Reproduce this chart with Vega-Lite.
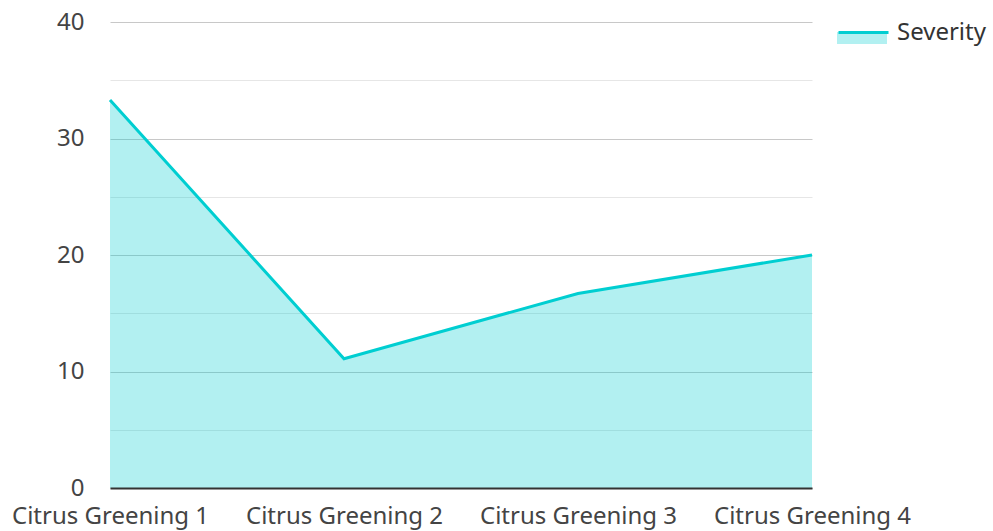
{
  "$schema": "https://vega.github.io/schema/vega-lite/v6.json",
  "width": 702,
  "height": 466,
  "autosize": {"type": "none"},
  "padding": {"left": 110, "top": 22, "right": 181, "bottom": 43},
  "background": "white",
  "config": {
    "view": {"stroke": null},
    "font": "Noto Sans",
    "axis": {"labelFont": "Noto Sans", "labelFontSize": 24, "labelColor": "#444444", "title": null, "labelLimit": 0},
    "legend": {"labelFont": "Noto Sans", "labelFontSize": 24, "labelColor": "#333333", "padding": 0, "labelLimit": 0}
  },
  "data": {
    "values": [
      {"category": "Citrus Greening 1", "severity": 33.3, "series": "Severity", "line": "Severity"},
      {"category": "Citrus Greening 2", "severity": 11.1, "series": "Severity", "line": "Severity"},
      {"category": "Citrus Greening 3", "severity": 16.7, "series": "Severity", "line": "Severity"},
      {"category": "Citrus Greening 4", "severity": 20.0, "series": "Severity", "line": "Severity"}
    ]
  },
  "encoding": {
    "x": {
      "field": "category",
      "type": "ordinal",
      "scale": {"type": "point", "padding": 0},
      "axis": {"labelAngle": 0, "ticks": false, "domainColor": "#333333", "domainWidth": 2, "labelPadding": 16, "grid": false, "zindex": 1, "labelOverlap": false}
    },
    "y": {
      "field": "severity",
      "type": "quantitative",
      "scale": {"domain": [0, 40], "nice": false},
      "axis": {
        "values": [0, 5, 10, 15, 20, 25, 30, 35, 40],
        "labelExpr": "datum.value % 10 === 0 ? datum.label : ''",
        "ticks": false,
        "domain": false,
        "labelPadding": 26,
        "grid": true,
        "gridColor": {"condition": {"test": "datum.value % 10 === 0", "value": "#c8c8c8"}, "value": "#e6e6e6"},
        "gridWidth": 1
      }
    }
  },
  "layer": [
    {
      "mark": {"type": "area", "fillOpacity": 0.3},
      "encoding": {
        "fill": {
          "field": "series",
          "type": "nominal",
          "scale": {"range": ["#00CED1"]},
          "legend": {
            "title": null,
            "orient": "none",
            "legendX": 727,
            "legendY": -15,
            "symbolType": "M-1,0H1V0.48H-1Z",
            "symbolSize": 2500,
            "symbolOpacity": 0.3,
            "symbolStrokeWidth": 0,
            "labelOffset": 7,
            "labelExpr": "''"
          }
        }
      }
    },
    {
      "mark": {"type": "line", "strokeWidth": 3},
      "encoding": {
        "stroke": {
          "field": "line",
          "type": "nominal",
          "scale": {"range": ["#00CED1"]},
          "legend": {
            "title": null,
            "orient": "none",
            "legendX": 727,
            "legendY": -16,
            "symbolType": "stroke",
            "symbolSize": 2500,
            "symbolStrokeWidth": 3,
            "labelOffset": 7
          }
        }
      }
    }
  ]
}
